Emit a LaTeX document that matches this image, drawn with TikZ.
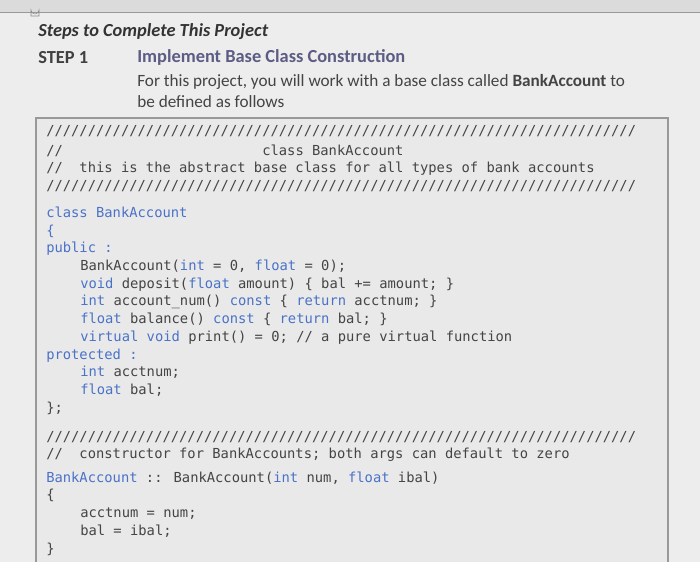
\documentclass[tikz,border=0pt]{standalone}
\usepackage{fontspec}
\setmainfont{Carlito}
\newfontfamily\codefont{DejaVu Sans Mono}
\definecolor{bg}{HTML}{EDEDED}
\definecolor{codebg}{HTML}{E9E9E9}
\definecolor{txt}{HTML}{444444}
\definecolor{kwc}{HTML}{4A72C8}
\definecolor{head}{HTML}{5C5C84}
\newcommand{\kw}[1]{\textcolor{kwc}{#1}}
\tikzset{
  code/.style={anchor=base west,inner sep=0pt,font=\codefont\fontsize{10.35}{13.5}\selectfont,text=txt},
  prose/.style={anchor=base west,inner sep=0pt,font=\fontsize{12.9}{15}\selectfont,text=txt},
}
\begin{document}
\begin{tikzpicture}[x=0.75pt,y=-0.75pt]
\useasboundingbox (0,0) rectangle (700,562);
\fill[bg] (0,0) rectangle (700,562);
\fill[black!14] (0,0) rectangle (700,12);
\draw[black!40] (0,12) -- (700,12);
\draw[black!45] (31,16) -- (31,10) arc (180:0:4) -- (39,16) -- cycle;
\fill[codebg] (36,118) rectangle (668,562);
\draw[black!40,line width=0.8pt] (36,562) -- (36,118) -- (668,118) -- (668,562);
% header
\node[prose,font=\bfseries\itshape\fontsize{13.8}{15}\selectfont,text=black!80] (t) at (38,36) {Steps to Complete This Project};
\node[prose,font=\bfseries\fontsize{13.8}{15}\selectfont,text=black!75] (s) at (38,63) {STEP 1};
\node[prose,font=\bfseries\fontsize{13.8}{15}\selectfont,text=head] (h) at (137,62) {Implement Base Class Construction};
\node[prose] (p1) at (137,86) {For this project, you will work with a base class called \textbf{BankAccount} to};
\node[prose] (p2) at (137,107) {be defined as follows};
% code
\node[code] (c1) at (46,135) {///////////////////////////////////////////////////////////////////////};
\node[code] (c2) at (46,155) {//};
\node[code] (c2b) at (262,155) {class BankAccount};
\node[code] (c3) at (46,172) {// \ this is the abstract base class for all types of bank accounts};
\node[code] (c4) at (46,190) {///////////////////////////////////////////////////////////////////////};
\node[code] (c5) at (46,217) {\kw{class BankAccount}};
\node[code] (c6) at (46,235) {\kw{\{}};
\node[code] (c7) at (46,252) {\kw{public :}};
\node[code] (c8) at (80,270) {BankAccount(\kw{int} = 0, \kw{float} = 0);};
\node[code] (c9) at (80,288) {\kw{void} deposit(\kw{float} amount) \{ bal += amount; \}};
\node[code] (c10) at (80,305) {\kw{int} account\_num() \kw{const} \{ \kw{return} acctnum; \}};
\node[code] (c11) at (80,323) {\kw{float} balance() \kw{const} \{ \kw{return} bal; \}};
\node[code] (c12) at (80,341) {\kw{virtual void} print() = 0; // a pure virtual function};
\node[code] (c13) at (46,359) {\kw{protected :}};
\node[code] (c14) at (80,376) {\kw{int} acctnum;};
\node[code] (c15) at (80,394) {\kw{float} bal;};
\node[code] (c16) at (46,412) {\};};
\node[code] (c17) at (46,441) {///////////////////////////////////////////////////////////////////////};
\node[code] (c18) at (46,458) {// \ constructor for BankAccounts; both args can default to zero};
\node[code] (c19) at (46,482) {\kw{BankAccount} :: BankAccount(\kw{int} num, \kw{float} ibal)};
\node[code] (c20) at (46,499) {\{};
\node[code] (c21) at (80,517) {acctnum = num;};
\node[code] (c22) at (80,535) {bal = ibal;};
\node[code] (c23) at (46,553) {\}};
\end{tikzpicture}
\end{document}
